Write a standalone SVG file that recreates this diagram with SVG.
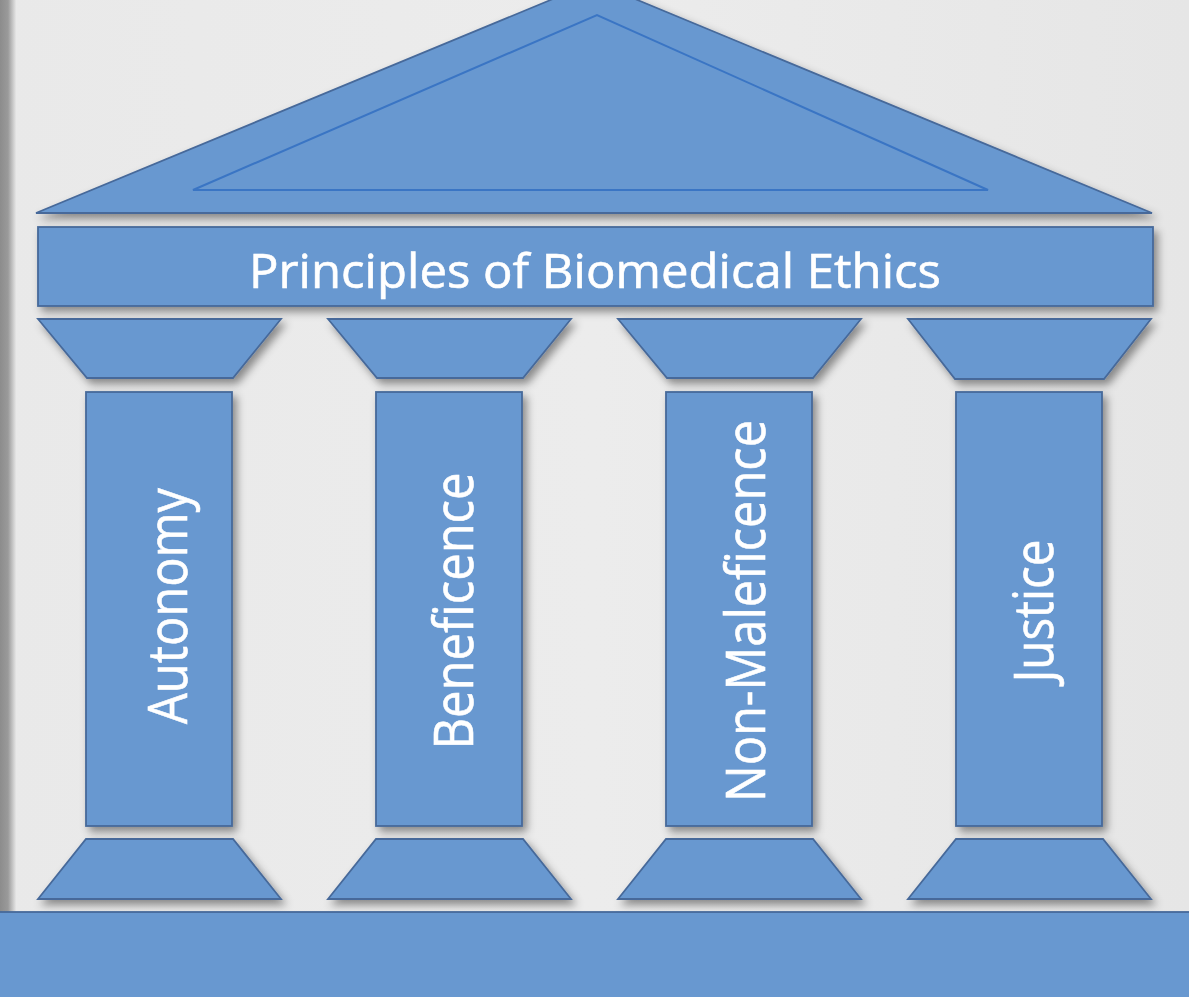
<svg xmlns="http://www.w3.org/2000/svg" width="1189" height="997" viewBox="0 0 1189 997">
  <defs>
    <filter id="shadow" x="-10%" y="-10%" width="130%" height="140%">
      <feDropShadow dx="4" dy="5" stdDeviation="4" flood-color="#000" flood-opacity="0.42"/>
    </filter>
    <linearGradient id="edge" x1="0" y1="0" x2="1" y2="0">
      <stop offset="0" stop-color="#8c8c8c"/>
      <stop offset="0.5" stop-color="#9a9a9a"/>
      <stop offset="1" stop-color="#e6e6e6"/>
    </linearGradient>
    <linearGradient id="bg" x1="0" y1="0" x2="1" y2="0">
      <stop offset="0" stop-color="#e9e9e9"/>
      <stop offset="0.5" stop-color="#ececec"/>
      <stop offset="1" stop-color="#e6e6e6"/>
    </linearGradient>
  </defs>
  <style>
    .part { fill: #6898d0; stroke: #46699a; stroke-width: 1.8; filter: url(#shadow); }
    .inner { fill: none; stroke: #3a75c4; stroke-width: 2; }
    .lbl { fill: #ffffff; stroke: #ffffff; stroke-width: 0.6; font-family: "Open Sans", "Liberation Sans", sans-serif; }
    .title { font-size: 47px; }
    .col { font-size: 55px; }
  </style>

  <rect x="0" y="0" width="1189" height="997" fill="url(#bg)"/>
  <rect x="0" y="0" width="16" height="912" fill="url(#edge)"/>

  <g id="roof">
    <polygon class="part" points="36,213 594,-18 1152,213"/>
    <polygon class="inner" points="193,190 597,15 988,190"/>
  </g>

  <g id="entablature">
    <rect class="part" x="38" y="227" width="1115" height="79"/>
    <text class="lbl title" x="595" y="288" text-anchor="middle" textLength="692" lengthAdjust="spacingAndGlyphs">Principles of Biomedical Ethics</text>
  </g>

  <g id="pillar-autonomy">
    <polygon class="part" points="38,319 281,319 233,378 87,378"/>
    <rect class="part" x="86" y="392" width="146" height="434"/>
    <polygon class="part" points="86,839 233,839 281,899 38,899"/>
    <text class="lbl col" transform="translate(187,606) rotate(-90)" text-anchor="middle" textLength="236" lengthAdjust="spacingAndGlyphs">Autonomy</text>
  </g>

  <g id="pillar-beneficence">
    <polygon class="part" points="328,319 571,319 523,378 377,378"/>
    <rect class="part" x="376" y="392" width="146" height="434"/>
    <polygon class="part" points="376,839 523,839 571,899 328,899"/>
    <text class="lbl col" transform="translate(473,611) rotate(-90)" text-anchor="middle" textLength="277" lengthAdjust="spacingAndGlyphs">Beneficence</text>
  </g>

  <g id="pillar-nonmaleficence">
    <polygon class="part" points="618,319 861,319 813,378 667,378"/>
    <rect class="part" x="666" y="392" width="146" height="434"/>
    <polygon class="part" points="666,839 813,839 861,899 618,899"/>
    <text class="lbl col" transform="translate(765,611) rotate(-90)" text-anchor="middle" textLength="382" lengthAdjust="spacingAndGlyphs">Non-Maleficence</text>
  </g>

  <g id="pillar-justice">
    <polygon class="part" points="908,319 1151,319 1104,379 955,379"/>
    <rect class="part" x="956" y="392" width="146" height="434"/>
    <polygon class="part" points="956,839 1103,839 1151,899 908,899"/>
    <text class="lbl col" transform="translate(1053,611) rotate(-90)" text-anchor="middle" textLength="143" lengthAdjust="spacingAndGlyphs">Justice</text>
  </g>

  <g id="foundation">
    <rect x="-5" y="912" width="1200" height="90" fill="#6898d0" stroke="#46699a" stroke-width="1.8"/>
  </g>

  <g id="connectors"/>
</svg>
